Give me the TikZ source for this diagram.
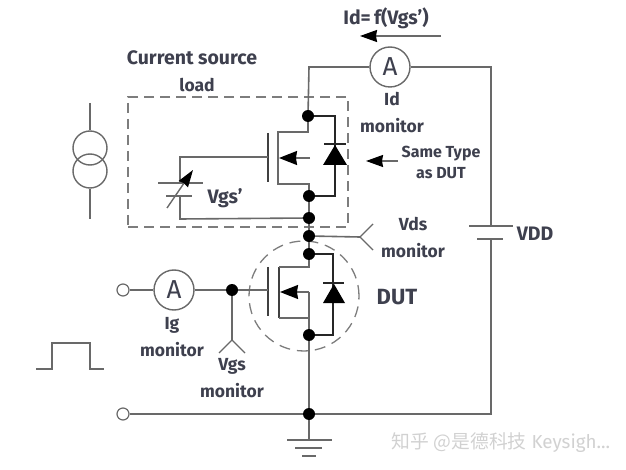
\documentclass[tikz,border=0pt]{standalone}
\usepackage{fontspec}
\setmainfont{Fira Sans}
\newfontfamily\cjkfont{Noto Sans CJK SC}
\usetikzlibrary{arrows.meta, calc}
\definecolor{wiregray}{RGB}{105, 105, 105}
\definecolor{labelgray}{RGB}{62, 64, 78}
\definecolor{dashgray}{RGB}{125, 125, 125}
\tikzset{
    wire/.style={
        draw=wiregray,
        line width=1.6pt
    },
    heavy wire/.style={
        draw=black!85,
        line width=2pt
    },
    plate/.style={
        draw=black!75,
        line width=2.6pt
    },
    dot/.style={
        circle,
        fill=black,
        inner sep=0pt,
        minimum size=12pt
    },
    terminal/.style={
        circle,
        draw=wiregray,
        fill=white,
        line width=1.2pt,
        inner sep=0pt,
        minimum size=12pt
    },
    meter/.style={
        circle,
        draw=wiregray,
        fill=white,
        line width=1.4pt,
        inner sep=0pt,
        minimum size=40pt,
        text=labelgray,
        font=\fontsize{26}{26}\selectfont
    },
    label/.style={
        text=labelgray,
        align=center,
        inner sep=0pt,
        font=\fontsize{17.5}{27}\selectfont\bfseries
    },
    big label/.style={
        label,
        font=\fontsize{19.5}{27}\selectfont\bfseries
    },
    small label/.style={
        label,
        font=\fontsize{16}{21}\selectfont\bfseries
    },
    flow arrow/.style={
        draw=wiregray,
        line width=1.6pt,
        -{Stealth[inset=1pt,length=17pt,width=12pt,black]}
    },
    fet arrow/.style={
        wire,
        -{Stealth[inset=1pt,length=18pt,width=14pt,black]}
    },
    dashed box/.style={
        draw=dashgray,
        line width=1.6pt,
        dash pattern=on 10pt off 6pt
    },
    symbol line/.style={
        draw=wiregray,
        line width=1.4pt
    }
}
\begin{document}
\begin{tikzpicture}[x=1pt, y=-1pt]
\useasboundingbox (0, 0) rectangle (626, 470);

% Current source load box
\node[dashed box, minimum width=220pt, minimum height=130pt, inner sep=0pt] (loadbox) at (238, 162) {};

% Circle round the DUT
\node[circle, dashed box, dash pattern=on 11pt off 7pt, line width=1.3pt, minimum size=110pt, inner sep=0pt] (dutring) at (304, 296) {};

% Junctions
\node[dot] (loadtop) at (308, 116) {};
\node[dot] (loadbot) at (309, 196) {};
\node[dot] (midtop) at (309, 218) {};
\node[dot] (midbot) at (309, 236) {};
\node[dot] (duttop) at (309, 254) {};
\node[dot] (dutbot) at (309, 335) {};
\node[dot] (gatedot) at (232, 290) {};
\node[dot] (botdot) at (309, 414) {};

% Meters and terminals
\node[meter] (idmeter) at (390, 67) {A};
\node[meter] (igmeter) at (174, 290) {A};
\node[terminal] (gatein) at (123, 290) {};
\node[terminal] (botin) at (123, 414) {};

% Corners
\coordinate (topleft) at (309, 67);
\coordinate (topright) at (491, 67);
\coordinate (botright) at (491, 414);
\coordinate (battop) at (491, 226);
\coordinate (batbot) at (491, 239);
\coordinate (gnd) at (309, 440);

% Main wires
\draw[wire] (idmeter) -- (topleft) -- (loadtop);
\draw[wire] (idmeter) -- (topright) -- (battop);
\draw[wire] (batbot) -- (botright) -- (botdot);
\draw[wire] (botin) -- (botdot);
\draw[wire] (loadbot) -- (midtop) -- (midbot) -- (duttop);
\draw[wire] (dutbot) -- (botdot) -- (gnd);
\draw[wire] (gatein) -- (igmeter) -- (gatedot);

% Battery
\coordinate (batla) at (469, 226);
\coordinate (batlb) at (513, 226);
\coordinate (batsa) at (477, 239);
\coordinate (batsb) at (503, 239);
\draw[wire] (batla) -- (batlb);
\draw[wire] (batsa) -- (batsb);

% Ground
\coordinate (gnda) at (287, 440);
\coordinate (gndb) at (332, 440);
\coordinate (gndc) at (295, 448);
\coordinate (gndd) at (322, 448);
\coordinate (gnde) at (302, 456);
\coordinate (gndf) at (316, 456);
\draw[wire] (gnda) -- (gndb);
\draw[wire] (gndc) -- (gndd);
\draw[wire] (gnde) -- (gndf);

% Load transistor
\coordinate (gplatea) at (268, 133);
\coordinate (gplateb) at (268, 182);
\coordinate (chan) at (279, 158);
\coordinate (chanend) at (310, 158);
\draw[plate] (gplatea) -- (gplateb);
\draw[wire] (loadtop) -- (loadtop |- 0, 132) -- (278, 132) -- (278, 184) -- (loadbot |- 0, 184) -- (loadbot);
\draw[fet arrow] (chanend) -- (chan);

% Load diode
\draw[heavy wire] (loadtop) -- (335, 116) -- (335, 196) -- (loadbot);
\draw[heavy wire] (324, 144) -- (346, 144);
\fill[black] (335, 145) -- (347, 165) -- (323, 165) -- cycle;

% DUT transistor
\coordinate (dplatea) at (268, 267);
\coordinate (dplateb) at (268, 316);
\coordinate (dchan) at (280, 292);
\coordinate (dchanend) at (309, 292);
\draw[plate] (dplatea) -- (dplateb);
\draw[plate] (279, 267) -- (279, 318);
\draw[wire] (duttop) -- (duttop |- 0, 267) -- (279, 267);
\draw[wire] (279, 318) -- (dutbot |- 0, 318);
\draw[wire] (dchanend) -- (dutbot);
\draw[fet arrow] (dchanend) -- (dchan);
\draw[wire] (gatedot) -- (268, 290);

% DUT diode
\draw[heavy wire] (duttop) -- (333, 254) -- (333, 335) -- (dutbot);
\draw[heavy wire] (323, 283) -- (344, 283);
\fill[black] (334, 284) -- (345, 303) -- (323, 303) -- cycle;

% Gate supply of the load
\coordinate (capa) at (180, 183);
\coordinate (capb) at (180, 196);
\draw[wire] (268, 157) -- (180, 157) -- (capa);
\draw[wire] (capb) -- (180, 219) -- (midtop);
\draw[symbol line] (158, 183) -- (203, 183);
\draw[symbol line] (166, 196) -- (192, 196);
\draw[symbol line, -{Stealth[inset=1pt,length=17pt,width=11pt,black]}] (167, 208) -- (193, 170);

% Current source symbol
\node[circle, symbol line, minimum size=34pt, inner sep=0pt] (srca) at (90, 148) {};
\node[circle, symbol line, minimum size=34pt, inner sep=0pt] (srcb) at (90, 171) {};
\coordinate (srctop) at (90, 103);
\coordinate (srcbot) at (90, 219);
\draw[symbol line] (srctop) -- (srca);
\draw[symbol line] (srcb) -- (srcbot);

% Pulse
\draw[symbol line] (36, 369) -- (52, 369) -- (52, 343) -- (90, 343) -- (90, 369) -- (104, 369);

% Monitor forks
\coordinate (vdsfork) at (360, 237);
\coordinate (vgsfork) at (232, 340);
\draw[wire] (midbot) -- (vdsfork);
\draw[symbol line] (373, 224) -- (vdsfork) -- (373, 250);
\draw[wire] (gatedot) -- (vgsfork);
\draw[symbol line] (219, 353) -- (vgsfork) -- (245, 353);

% Flow arrows
\coordinate (idarrowa) at (441, 36);
\coordinate (idarrowb) at (360, 36);
\coordinate (typearrowa) at (398, 161);
\coordinate (typearrowb) at (366, 161);
\draw[flow arrow] (idarrowa) -- (idarrowb);
\draw[flow arrow] (typearrowa) -- (typearrowb);

% Labels
\node[big label] (idformula) at (386, 18) {Id=\,f(Vgs')};
\node[big label] (loadlabel) at (192, 58) {Current source};
\node[label] (loadlabelb) at (197, 85) {load};
\node[label] (idlabel) at (392, 113) {Id\\monitor};
\node[small label] (typelabel) at (441, 162) {Same Type\\as DUT};
\node[big label] (vgsprime) at (225, 198) {Vgs'};
\node[label] (vdslabel) at (413, 238) {Vds\\monitor};
\node[big label] (vddlabel) at (535, 234) {VDD};
\node[label, font=\fontsize{22}{24}\selectfont\bfseries] (dutlabel) at (397, 297) {DUT};
\node[label] (iglabel) at (172, 337) {Ig\\monitor};
\node[label] (vgslabel) at (232, 378) {Vgs\\monitor};

% Watermark
\node[text=black!18, inner sep=0pt, font=\fontsize{18.8}{20}\selectfont] (mark) at (501, 443) {{\cjkfont 知乎 @是德科技} Keysigh...};

\end{tikzpicture}
\end{document}
